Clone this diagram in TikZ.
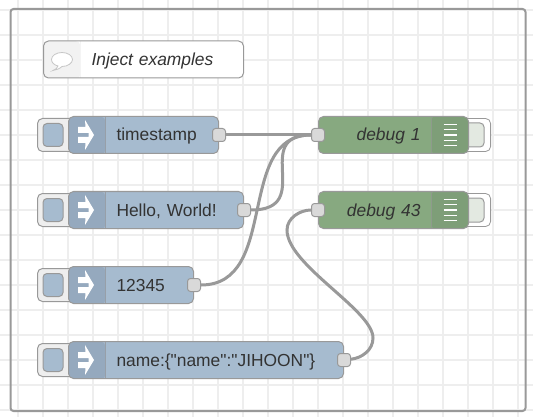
\documentclass[tikz,border=0pt]{standalone}
\usepackage{fontspec}
\setmainfont{Liberation Sans}[Ligatures=TeXOff]
\usetikzlibrary{positioning,backgrounds}
\definecolor{injblue}{HTML}{A6BBCF}
\definecolor{injtab}{HTML}{95A9BE}
\definecolor{dbggreen}{HTML}{87A980}
\definecolor{dbgtab}{HTML}{7E9E78}
\definecolor{edgegray}{HTML}{999999}
\definecolor{gridgray}{HTML}{EEEEEE}
\definecolor{portgray}{HTML}{D9D9D9}
\definecolor{labelgray}{HTML}{333333}
\definecolor{dbgpale}{HTML}{E3E9E1}

\begin{document}
\begin{tikzpicture}[x=1pt,y=-1pt,on grid,
    gridline/.style={gridgray,line width=1.5pt},
    groupbox/.style={draw=edgegray,line width=2pt,rounded corners=3pt,
      minimum width=515pt,minimum height=402pt,inner sep=0pt},
    flowbox/.style={draw=edgegray,line width=1pt,rounded corners=5pt,inner sep=0pt,
      minimum height=37pt,text height=14pt,text depth=2pt,font=\fontsize{17.4}{20}\selectfont,
      text=labelgray,anchor=west},
    lefttext/.style={text width=#1,align=left,execute at begin node={\hspace*{48pt}}},
    righttext/.style={text width=#1,align=right,execute at end node={\hspace*{48pt}}},
    lefttab/.style={path picture={
      \fill[#1] ([xshift=-1pt]path picture bounding box.north west) rectangle
        ([xshift=37pt,yshift=-1pt]path picture bounding box.south west);
      \draw[edgegray!60!#1,line width=0.6pt] ([xshift=37pt]path picture bounding box.north west) --
        ([xshift=37pt]path picture bounding box.south west);}},
    listicon/.style={path picture={
      \fill[dbgtab] ([xshift=-37pt,yshift=1pt]path picture bounding box.north east) rectangle
        ([xshift=1pt,yshift=-1pt]path picture bounding box.south east);
      \draw[edgegray!60!dbgtab,line width=0.6pt] ([xshift=-37pt]path picture bounding box.north east) --
        ([xshift=-37pt]path picture bounding box.south east);
      \foreach \k in {-2,...,2}
        \draw[white,line width=1.2pt] ([xshift=-25pt,yshift=\k*5.2pt]path picture bounding box.east) --
          ([xshift=-12pt,yshift=\k*5.2pt]path picture bounding box.east);}},
    arrowmark/.pic={
      \fill[white] (0,-8) -- (7.5,-8) -- (7,-15) -- (16,0) -- (7,15) -- (7.5,8) -- (0,8)
        -- (0,2) -- (10.5,2) -- (10.5,-2) -- (0,-2) -- cycle;},
    bubblemark/.pic={
      \draw[gray!45,fill=white,line width=0.8pt] (-4,6.5) .. controls (-4.5,8.5) and (-6.5,10) .. (-9,11)
        .. controls (-5.5,10.5) and (-2,9) .. (0,7)
        .. controls (6,7) and (10.5,3.5) .. (10.5,0)
        .. controls (10.5,-4) and (5.5,-7) .. (0,-7)
        .. controls (-5.5,-7) and (-10.5,-4) .. (-10.5,0)
        .. controls (-10.5,3) and (-8,5.5) .. (-4,6.5) -- cycle;},
    injbutton/.style={draw=edgegray,fill=gridgray,line width=1pt,rounded corners=5pt,
      minimum width=37pt,minimum height=33pt,inner sep=0pt,anchor=west},
    injpatch/.style={draw=edgegray,fill=injblue,line width=1pt,rounded corners=4pt,
      minimum width=20pt,minimum height=23pt,inner sep=0pt,anchor=center},
    dbgbutton/.style={draw=edgegray,fill=white,line width=0.8pt,rounded corners=5pt,
      minimum width=37pt,minimum height=33pt,inner sep=0pt,anchor=east},
    dbgpatch/.style={draw=edgegray,fill=dbgpale,line width=1pt,rounded corners=4pt,
      minimum width=26pt,minimum height=24pt,inner sep=0pt,anchor=center},
    port/.style={draw=edgegray,fill=portgray,line width=1pt,rounded corners=3pt,
      minimum size=13pt,inner sep=0pt,anchor=center},
    wire/.style={edgegray,line width=3pt}]

  \useasboundingbox (0,0) rectangle (533,417);
  \begin{scope}[on background layer]
    \fill[white] (0,0) rectangle (533,417);
    \foreach \x in {18,43,...,518} \draw[gridline] (\x,0) -- (\x,417);
    \foreach \y in {10,35,...,410} \draw[gridline] (0,\y) -- (533,\y);
  \end{scope}
  \node[groupbox] (g_0) at (268,210) {};

  % comment
  \node[flowbox,fill=white,lefttab=gray!10,lefttext=200pt,font=\fontsize{17.4}{20}\selectfont\itshape]
    (c_0) at (43,59.5) {Inject examples};
  \pic at ([xshift=19pt]c_0.west) {bubblemark};

  % inject side
  \node[injbutton] (b_1) at (37,135) {};
  \node[injbutton] (b_2) [below=75pt of b_1.west,anchor=west] {};
  \node[injbutton] (b_3) [below=75pt of b_2.west,anchor=west] {};
  \node[injbutton] (b_4) [below=75pt of b_3.west,anchor=west] {};
  \node[injpatch] (p_1) [right=16pt of b_1.west,anchor=center] {};
  \node[injpatch] (p_2) [right=16pt of b_2.west,anchor=center] {};
  \node[injpatch] (p_3) [right=16pt of b_3.west,anchor=center] {};
  \node[injpatch] (p_4) [right=16pt of b_4.west,anchor=center] {};

  \node[flowbox,fill=injblue,lefttab=injtab,lefttext=150pt] (i_1) [right=31pt of b_1.west,anchor=west] {timestamp};
  \node[flowbox,fill=injblue,lefttab=injtab,lefttext=175pt] (i_2) [right=31pt of b_2.west,anchor=west] {Hello, World!};
  \node[flowbox,fill=injblue,lefttab=injtab,lefttext=125pt] (i_3) [right=31pt of b_3.west,anchor=west] {12345};
  \node[flowbox,fill=injblue,lefttab=injtab,lefttext=275pt] (i_4) [right=31pt of b_4.west,anchor=west] {name:\{"name":"JIHOON"\}};
  \foreach \n in {i_1,i_2,i_3,i_4} \pic at ([xshift=10pt]\n.west) {arrowmark};

  % debug side
  \node[dbgbutton] (d_1) at (491,135) {};
  \node[dbgbutton] (d_2) [below=75pt of d_1.east,anchor=east] {};
  \node[dbgpatch] (q_1) [left=20pt of d_1.east,anchor=center] {};
  \node[dbgpatch] (q_2) [left=20pt of d_2.east,anchor=center] {};
  \node[flowbox,fill=dbggreen,listicon,righttext=150pt,font=\fontsize{17.4}{20}\selectfont\itshape]
    (o_1) at (318,135) {debug 1};
  \node[flowbox,fill=dbggreen,listicon,righttext=150pt,font=\fontsize{17.4}{20}\selectfont\itshape]
    (o_2) [below=75pt of o_1.west,anchor=west] {debug 43};

  % ports
  \node[port] (i_1p) at (i_1.east) {};
  \node[port] (i_2p) at (i_2.east) {};
  \node[port] (i_3p) at (i_3.east) {};
  \node[port] (i_4p) at (i_4.east) {};
  \node[port] (o_1p) at (o_1.west) {};
  \node[port] (o_2p) at (o_2.west) {};

  \begin{scope}[on background layer]
    \path[wire] (i_1p) edge (o_1p);
    \draw[wire] (i_2p) .. controls (316,210) and (250,135) .. (o_1p);
    \draw[wire] (i_3p) .. controls (280,285) and (235,135) .. (o_1p);
    \draw[wire] (i_4p) .. controls (362,358) and (373,350) .. (373,338)
      .. controls (373,310) and (287,265) .. (287,230)
      .. controls (287,218) and (300,210) .. (o_2p);
  \end{scope}
\end{tikzpicture}
\end{document}
